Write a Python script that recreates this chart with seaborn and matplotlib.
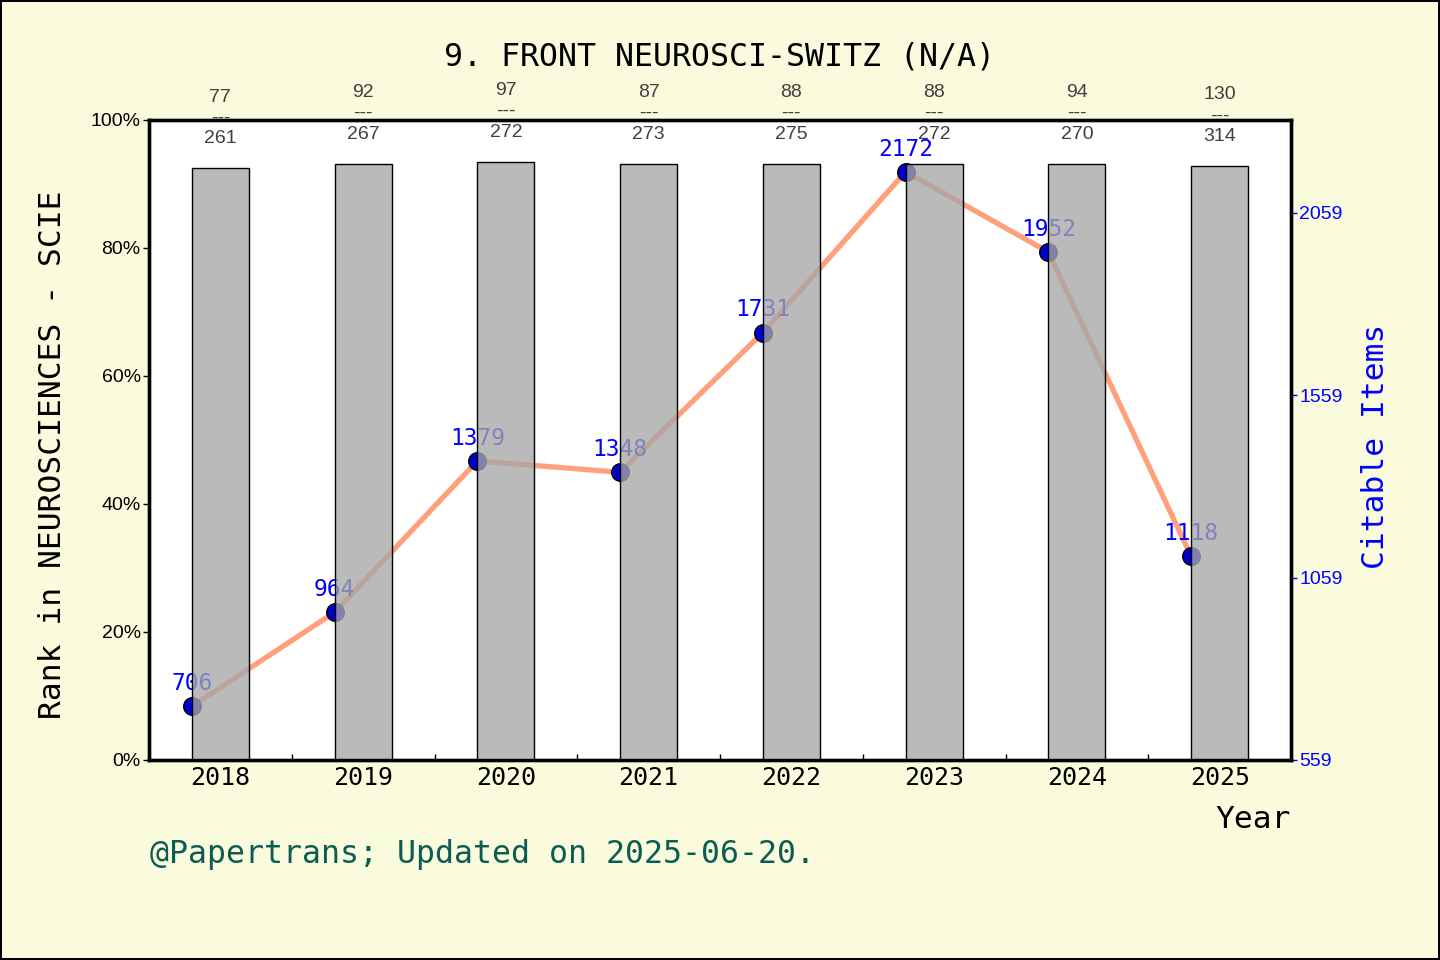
import numpy as np
import pandas as pd
import seaborn as sns
import matplotlib.pyplot as plt
from matplotlib.ticker import FixedLocator, FuncFormatter

# journal data
years = [2018, 2019, 2020, 2021, 2022, 2023, 2024, 2025]
rank_pct = [92.45, 93.2, 93.5, 93.2, 93.2, 93.2, 93.2, 92.8]
ranks = [77, 92, 97, 87, 88, 88, 94, 130]
totals = [261, 267, 272, 273, 275, 272, 270, 314]
citable = [706, 964, 1379, 1348, 1731, 2172, 1952, 1118]
right_ticks = [559, 1059, 1559, 2059]

title = "9. FRONT NEUROSCI-SWITZ (N/A)"
left_label = "Rank in NEUROSCIENCES - SCIE"
right_label = "Citable Items"
note = "@Papertrans; Updated on 2025-06-20."

plt.rcParams["font.family"] = ["DejaVu Sans Mono"]
mono = "DejaVu Sans Mono"
sans = "Liberation Sans"

df = pd.DataFrame({"year": years, "pct": rank_pct, "cites": citable})
df["line_x"] = df["year"] - 0.2

fig = plt.figure(figsize=(14.4, 9.6), dpi=100, facecolor="#fafadc",
                 edgecolor="black", linewidth=1.5)
ax = fig.add_axes([149 / 1440, 1 - 760 / 960, 1142 / 1440, 640 / 960])
ax2 = ax.twinx()
ax.set_zorder(2)
ax2.set_zorder(1)
ax.patch.set_visible(False)
ax2.patch.set_visible(True)
ax2.patch.set_facecolor("white")

# citable items line (drawn under the bars)
sns.lineplot(data=df, x="line_x", y="cites", ax=ax2, color="#ffa07a", lw=3.8, zorder=2)
sns.scatterplot(data=df, x="line_x", y="cites", ax=ax2, color="mediumblue", s=160,
                edgecolor="black", linewidth=1, zorder=3)
for xv, yv in zip(df["line_x"], df["cites"]):
    ax2.annotate(str(yv), (xv, yv), xytext=(0, 8), textcoords="offset points",
                 ha="center", va="bottom", color="blue", fontsize=16.5, family=mono)
ax2.set_ylim(559, 2314)
ax2.yaxis.set_major_locator(FixedLocator(right_ticks))
ax2.tick_params(axis="y", colors="blue", labelsize=14, length=4, width=1, pad=2)
for lab in ax2.get_yticklabels():
    lab.set_family(sans)
ax2.set_ylabel("")
ax2.set_xlabel("")
fig.text(1375 / 1440, 1 - 446 / 960, right_label, rotation=90, color="blue",
         fontsize=22.5, family=mono, ha="center", va="center")

# rank bars
sns.barplot(data=df, x="year", y="pct", ax=ax, native_scale=True, width=0.4,
            color="#a7a7a8", edgecolor="black", linewidth=1)
for p in ax.patches:
    p.set_facecolor((0.655, 0.655, 0.66, 0.78))
for xv, h, r, t in zip(years, rank_pct, ranks, totals):
    ax.annotate(f"{r}\n---\n{t}", (xv, h), xytext=(0, 15), textcoords="offset points",
                ha="center", va="bottom", color="#404040", fontsize=14,
                family=sans, linespacing=1.3, annotation_clip=False)

ax.set_ylim(0, 100)
ax.set_xlim(2017.5, 2025.5)
ax.set_yticks([0, 20, 40, 60, 80, 100])
ax.yaxis.set_major_formatter(FuncFormatter(lambda v, _: f"{v:.0f}%"))
ax.set_xticks(years)
ax.set_xticklabels([str(y) for y in years], fontsize=18, family=mono)
ax.xaxis.set_minor_locator(FixedLocator([y + 0.5 for y in years[:-1]]))
ax.tick_params(axis="x", which="major", length=0, pad=4)
ax.tick_params(axis="x", which="minor", direction="in", length=4, width=1)
ax.tick_params(axis="y", labelsize=14, length=4, width=1, pad=2)
for lab in ax.get_yticklabels():
    lab.set_family(sans)
ax.set_ylabel(left_label, fontsize=22.5, family=mono)
ax.yaxis.set_label_coords(-0.072, 0.477)
ax.set_xlabel("Year", fontsize=22.5, family=mono, loc="right", labelpad=11)

for a in (ax, ax2):
    for s in a.spines.values():
        s.set_linewidth(2.4)
        s.set_color("black")

fig.text(0.5, 1 - 57 / 960, title, ha="center", va="center", fontsize=22.8, family=mono)
fig.text(150 / 1440, 1 - 855 / 960, note, ha="left", va="center", fontsize=22.8,
         family=mono, color="#0b5c52")

fig.savefig("out.png", dpi=100, facecolor=fig.get_facecolor(), edgecolor="black")
